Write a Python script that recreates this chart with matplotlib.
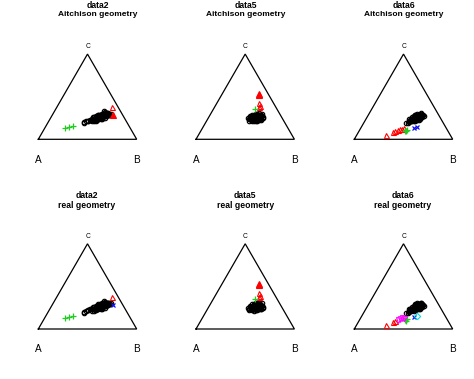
import numpy as np
import matplotlib
matplotlib.use("Agg")
import matplotlib.pyplot as plt

plt.rcParams['font.family'] = ['Liberation Sans', 'DejaVu Sans']

W, H = 474, 379

# ---------------- data: compositions (parts B and C; A = 1 - B - C) ----------------
data2_B = [0.50, 0.52, 0.48, 0.54, 0.46, 0.51, 0.49, 0.53, 0.47, 0.55, 0.45, 0.56, 0.44, 0.50, 0.52,
           0.48, 0.57, 0.43, 0.51, 0.49, 0.53, 0.47, 0.55, 0.57, 0.46, 0.54, 0.42, 0.50, 0.52, 0.56,
           0.45, 0.49, 0.51, 0.58, 0.48, 0.46, 0.48, 0.44, 0.50, 0.40, 0.38, 0.36, 0.37, 0.59,
           0.50, 0.52, 0.54, 0.48, 0.46, 0.53, 0.51, 0.55, 0.49, 0.47, 0.56, 0.44, 0.52, 0.50,
           0.54, 0.48, 0.45, 0.53, 0.51, 0.57, 0.43, 0.49, 0.47, 0.55, 0.41, 0.39]
data2_C = [0.27, 0.28, 0.26, 0.29, 0.25, 0.25, 0.29, 0.26, 0.28, 0.27, 0.27, 0.30, 0.24, 0.30, 0.24,
           0.23, 0.28, 0.26, 0.28, 0.26, 0.30, 0.25, 0.25, 0.30, 0.29, 0.27, 0.23, 0.25, 0.32, 0.28,
           0.25, 0.28, 0.26, 0.29, 0.27, 0.21, 0.22, 0.21, 0.33, 0.22, 0.21, 0.20, 0.19, 0.30,
           0.28, 0.27, 0.28, 0.24, 0.27, 0.28, 0.30, 0.29, 0.24, 0.26, 0.29, 0.26, 0.29, 0.26,
           0.31, 0.29, 0.23, 0.24, 0.31, 0.29, 0.24, 0.25, 0.23, 0.31, 0.23, 0.22]

data5_B = [0.48, 0.46, 0.50, 0.44, 0.52, 0.47, 0.49, 0.45, 0.51, 0.43, 0.53, 0.48, 0.46, 0.50, 0.42,
           0.54, 0.47, 0.49, 0.44, 0.52, 0.45, 0.41, 0.51, 0.48, 0.46, 0.55, 0.43, 0.50, 0.47, 0.53,
           0.40, 0.49, 0.45, 0.52, 0.44, 0.48, 0.42, 0.56,
           0.47, 0.49, 0.51, 0.45, 0.53, 0.43, 0.48, 0.50, 0.46, 0.52, 0.44, 0.54, 0.49, 0.47,
           0.51, 0.45, 0.42, 0.55, 0.48, 0.50]
data5_C = [0.26, 0.25, 0.27, 0.24, 0.25, 0.28, 0.23, 0.27, 0.29, 0.26, 0.27, 0.29, 0.22, 0.24, 0.24,
           0.24, 0.26, 0.27, 0.29, 0.28, 0.23, 0.27, 0.22, 0.24, 0.30, 0.26, 0.22, 0.26, 0.23, 0.23,
           0.25, 0.31, 0.25, 0.30, 0.27, 0.21, 0.29, 0.25,
           0.25, 0.25, 0.26, 0.26, 0.25, 0.25, 0.27, 0.28, 0.27, 0.27, 0.23, 0.27, 0.29, 0.30,
           0.24, 0.29, 0.26, 0.23, 0.23, 0.22]

data6_B = [0.49, 0.51, 0.47, 0.53, 0.50, 0.48, 0.52, 0.46, 0.54, 0.49, 0.51, 0.47, 0.55, 0.45, 0.50,
           0.52, 0.48, 0.53, 0.46, 0.56, 0.50, 0.49, 0.44, 0.54, 0.51, 0.47, 0.57, 0.52, 0.45, 0.48,
           0.55, 0.50, 0.46, 0.53, 0.43,
           0.50, 0.52, 0.48, 0.54, 0.49, 0.51, 0.47, 0.53, 0.55, 0.46, 0.50, 0.52, 0.48, 0.51,
           0.49, 0.45, 0.54, 0.56, 0.47, 0.53]
data6_C = [0.25, 0.26, 0.24, 0.27, 0.28, 0.22, 0.23, 0.26, 0.25, 0.27, 0.29, 0.21, 0.28, 0.23, 0.24,
           0.26, 0.25, 0.30, 0.20, 0.26, 0.21, 0.30, 0.24, 0.23, 0.24, 0.27, 0.27, 0.31, 0.19, 0.28,
           0.24, 0.26, 0.22, 0.25, 0.19,
           0.27, 0.28, 0.26, 0.29, 0.23, 0.22, 0.25, 0.28, 0.26, 0.24, 0.29, 0.24, 0.23, 0.27,
           0.26, 0.21, 0.27, 0.28, 0.29, 0.26]

# outliers: (B, C) plus group label for Aitchison geometry and real geometry
out2_B = [0.206, 0.243, 0.278, 0.565, 0.622]
out2_C = [0.129, 0.145, 0.156, 0.376, 0.282]
out2_aitch = ['plus', 'plus', 'plus', 'tri', 'trifill']
out2_real = ['plus', 'plus', 'plus', 'tri', 'cross']

out5_B = [0.426, 0.434, 0.454, 0.454, 0.377, 0.378]
out5_C = [0.351, 0.421, 0.390, 0.375, 0.530, 0.515]
out5_aitch = ['plus', 'tri', 'tri', 'tri', 'trifill', 'trifill']
out5_real = ['plus', 'tri', 'tri', 'tri', 'trifill', 'trifill']

out6_B = [0.296, 0.349, 0.368, 0.386, 0.406, 0.426, 0.438, 0.468, 0.476, 0.478, 0.538, 0.566]
out6_C = [0.051, 0.082, 0.098, 0.110, 0.117, 0.125, 0.133, 0.102, 0.113, 0.094, 0.137, 0.149]
out6_aitch = ['tri'] * 7 + ['plus'] * 3 + ['cross', 'cross']
out6_real = ['tri'] * 3 + ['down'] * 4 + ['plus'] * 3 + ['cross', 'diamond']

titles = ['data2', 'data5', 'data6']
geoms = ['Aitchison geometry', 'real geometry']
vertex_labels = ['A', 'B', 'C']

# ---------------- styles ----------------
styles = {
    'tri': dict(marker='^', color='#FF0000', mfc='none', ms=3.6, mew=0.8),
    'trifill': dict(marker='^', color='#FF0000', mfc='#FF0000', ms=4.2, mew=0.8),
    'plus': dict(marker='+', color='#22CC22', ms=4.5, mew=0.9),
    'cross': dict(marker='x', color='#1111EE', ms=3.5, mew=0.9),
    'diamond': dict(marker='D', color='#00DDDD', mfc='none', ms=3.2, mew=0.8),
    'down': dict(marker='v', color='#FF00FF', mfc='none', ms=3.6, mew=0.8),
}


def tern(B, C):
    B = np.asarray(B, float)
    C = np.asarray(C, float)
    A = 1.0 - B - C
    tot = A + B + C
    b, c = B / tot, C / tot
    return b + c / 2.0, c * np.sqrt(3) / 2.0


fig = plt.figure(figsize=(W / 100, H / 100), dpi=100)
fig.patch.set_facecolor('white')

side = 98.4
base_left_x = [38.3, 196.0, 354.3]
base_y = [139.3, 329.0]
title_x = [[98.0, 245.7, 403.5], [87.0, 245.3, 403.0]]
title_y = [[5.0, 15.0], [195.0, 205.7]]

clusters = [(data2_B, data2_C), (data5_B, data5_C), (data6_B, data6_C)]
outs = [(out2_B, out2_C, out2_aitch, out2_real),
        (out5_B, out5_C, out5_aitch, out5_real),
        (out6_B, out6_C, out6_aitch, out6_real)]

for r in range(2):
    for c in range(3):
        bx, by = base_left_x[c], base_y[r]
        left = bx - 0.5 * side
        bottom = (H - by) - 0.5 * side
        ax = fig.add_axes([left / W, bottom / H, 2 * side / W, 2 * side / H])
        ax.set_xlim(-0.5, 1.5)
        ax.set_ylim(-0.5, 1.5)
        ax.axis('off')
        tx = [0, 1, 0.5, 0]
        ty = [0, 0, np.sqrt(3) / 2, 0]
        ax.plot(tx, ty, color='black', lw=0.9, solid_joinstyle='miter')

        cb, cc = clusters[c]
        x, y = tern(cb, cc)
        ax.plot(x, y, linestyle='none', marker='o', ms=3.2, mfc='none',
                mec='black', mew=0.85)

        ob, oc, ga, gr = outs[c]
        groups = ga if r == 0 else gr
        for key in styles:
            idx = [i for i, g in enumerate(groups) if g == key]
            if not idx:
                continue
            xo, yo = tern([ob[i] for i in idx], [oc[i] for i in idx])
            ax.plot(xo, yo, linestyle='none', **styles[key])

        # vertex labels
        fig.text((bx + 0.5 * side) / W, 1 - (by - side * np.sqrt(3) / 2 - 7.5) / H,
                 vertex_labels[2], ha='center', va='center', fontsize=4.8)
        fig.text(bx / W, 1 - (by + 20.5) / H, vertex_labels[0],
                 ha='center', va='center', fontsize=7.2)
        fig.text((bx + side) / W, 1 - (by + 20.5) / H, vertex_labels[1],
                 ha='center', va='center', fontsize=7.2)

        # titles
        fig.text(title_x[r][c] / W, 1 - title_y[r][0] / H, titles[c],
                 ha='center', va='center', fontsize=6.2, fontweight='bold')
        fig.text(title_x[r][c] / W, 1 - title_y[r][1] / H, geoms[r],
                 ha='center', va='center', fontsize=6.0 if r == 0 else 6.2,
                 fontweight='bold')

fig.savefig('out.png', dpi=100, facecolor='white')
